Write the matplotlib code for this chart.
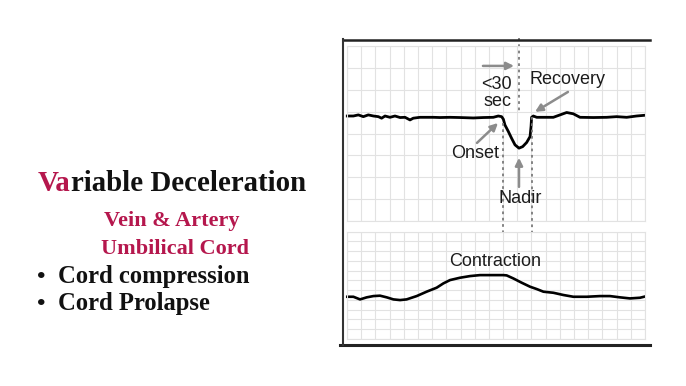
import matplotlib
matplotlib.use("Agg")
import matplotlib.pyplot as plt
from matplotlib.lines import Line2D
from matplotlib.transforms import blended_transform_factory

# ---------------- data ----------------
fhr_time = [2, 45, 80, 115, 150, 186, 221, 244, 268, 303, 338, 374, 409, 444, 467,
            514, 561, 608, 655, 726, 796, 890, 961, 1031, 1066, 1090, 1102, 1113,
            1137, 1160, 1184, 1212, 1238, 1266, 1290, 1297, 1301, 1313, 1337, 1407,
            1454, 1501, 1548, 1595, 1642, 1736, 1830, 1900, 1971, 2041, 2093]
fhr_time = [t / 10 for t in fhr_time]
fhr_bpm = [148.0, 148.0, 148.5, 147.7, 148.5, 148.0, 147.7, 147.0, 148.0, 147.4,
           148.0, 147.3, 147.4, 146.2, 147.0, 147.4, 147.4, 147.4, 147.3, 147.4,
           147.3, 147.1, 147.3, 147.4, 148.0, 147.7, 146.5, 143.9, 140.9, 137.8,
           134.8, 133.3, 134.0, 135.9, 138.6, 143.2, 147.4, 148.0, 147.4, 147.4,
           147.4, 148.5, 149.6, 149.0, 147.4, 147.3, 147.4, 147.7, 147.4, 148.0, 148.3]

uc_time = [0.2, 4.5, 9.2, 13.9, 18.6, 23.3, 28.0, 32.7, 37.4, 42.0, 49.1, 56.1,
           63.2, 67.9, 72.6, 79.6, 86.7, 93.7, 103.1, 110.2, 112.5, 117.2, 123.1,
           129.0, 133.7, 138.4, 145.4, 152.5, 159.5, 168.9, 178.3, 185.3, 192.4,
           199.4, 206.5, 209.3]
uc_mmhg = [43.3, 43.3, 40.6, 42.7, 44.0, 44.4, 42.7, 40.6, 39.9, 40.6, 44.0, 48.5,
           52.6, 57.0, 60.4, 62.8, 64.5, 65.5, 65.5, 65.5, 65.2, 62.1, 57.7, 53.6,
           51.2, 48.5, 47.4, 45.1, 43.3, 43.3, 44.0, 44.0, 42.7, 41.6, 42.3, 43.3]

onset_t, nadir_t, recovery_t = 110.0, 121.2, 130.4

title_red = "Va"
title_rest = "riable Deceleration"
subtitle_lines = ["Vein & Artery", "Umbilical Cord"]
bullets = ["Cord compression", "Cord Prolapse"]

# ---------------- figure ----------------
W, H = 686, 386
fig = plt.figure(figsize=(W / 100, H / 100), dpi=100)
fig.patch.set_facecolor("white")

def fx(px):
    return px / W

def fy(py):
    return 1 - py / H

GRID = "#e2e2e2"
RED = "#b5174d"
ARROW = "#8c8c8c"
TXT = "#1c1c1c"

def panel(left, top, right, bottom, ylim, ystep):
    ax = fig.add_axes([fx(left), fy(bottom), fx(right) - fx(left), fy(top) - fy(bottom)])
    ax.set_xlim(0, 210)
    ax.set_ylim(*ylim)
    ax.set_xticks(range(0, 211, 10))
    ax.set_yticks(range(int(ylim[0]), int(ylim[1]) + 1, ystep))
    ax.grid(True, color=GRID, lw=0.8)
    ax.tick_params(length=0, labelbottom=False, labelleft=False)
    for s in ax.spines.values():
        s.set_color(GRID)
        s.set_linewidth(0.8)
    ax.set_axisbelow(True)
    return ax

ax1 = panel(347, 46, 645, 221, (100, 180), 10)
ax2 = panel(347, 231.7, 645, 339, (0, 110), 10)

ax1.plot(fhr_time, fhr_bpm, color="black", lw=2.0, solid_joinstyle="round", clip_on=False)
ax2.plot(uc_time, uc_mmhg, color="black", lw=1.9, solid_joinstyle="round", clip_on=False)

# dotted guide lines
tr = blended_transform_factory(ax1.transData, fig.transFigure)
dot_kw = dict(color="#7a7a7a", lw=1.3, ls=(0, (1.5, 2)), transform=tr, clip_on=False)
ax1.plot([nadir_t, nadir_t], [fy(38), fy(112)], **dot_kw)
ax1.plot([onset_t, onset_t], [fy(123), fy(338)], **dot_kw)
ax1.plot([recovery_t, recovery_t], [fy(117), fy(338)], **dot_kw)

# frame lines
fig.add_artist(Line2D([fx(343), fx(650)], [fy(39.5), fy(39.5)], color="#222222", lw=1.8))
fig.add_artist(Line2D([fx(340), fx(650)], [fy(345), fy(345)], color="#222222", lw=2.2))
fig.add_artist(Line2D([fx(343), fx(343)], [fy(39), fy(345)], color="#333333", lw=1.5))

# annotations
lab = dict(fontsize=13, color=TXT, family="Liberation Sans", ha="center", va="center")
ax1.text(105.0, 162.6, "<30", **lab)
ax1.text(106.4, 154.4, "sec", **lab)
ax1.text(155.7, 164.5, "Recovery", **lab)
ax1.text(90.2, 130.7, "Onset", **lab)
ax1.text(121.9, 110.1, "Nadir", **lab)
ax2.text(104.3, 79.0, "Contraction", **lab)

ap = dict(arrowstyle="-|>", color=ARROW, lw=1.8, mutation_scale=11, shrinkA=0, shrinkB=0)
ax1.annotate("", xy=(117.7, 170.9), xytext=(95.8, 170.9), arrowprops=ap, annotation_clip=False)
ax1.annotate("", xy=(132.5, 149.9), xytext=(155.7, 159.0), arrowprops=ap, annotation_clip=False)
ax1.annotate("", xy=(106.4, 144.8), xytext=(91.6, 135.7), arrowprops=ap, annotation_clip=False)
ax1.annotate("", xy=(121.2, 128.9), xytext=(121.2, 115.6), arrowprops=ap, annotation_clip=False)

# left-hand text
serif = dict(family="Liberation Serif", weight="bold")
t1 = fig.text(fx(38), fy(191), title_red, color=RED, fontsize=20.8, va="baseline", ha="left", **serif)
plt.annotate(title_rest, xy=(1, 0), xycoords=t1, va="bottom", ha="left",
             color="#111111", fontsize=20.8, annotation_clip=False, **serif)

fig.text(fx(172), fy(226), subtitle_lines[0], color=RED, fontsize=16, ha="center", va="baseline", **serif)
fig.text(fx(175), fy(254), subtitle_lines[1], color=RED, fontsize=16, ha="center", va="baseline", **serif)

for i, b in enumerate(bullets):
    base = [283, 310][i]
    fig.text(fx(37), fy(base), "\u2022", color="#111111", fontsize=17.5, ha="left", va="baseline", **serif)
    fig.text(fx(58), fy(base), b, color="#111111", fontsize=17.7, ha="left", va="baseline", **serif)

fig.savefig("out.png", dpi=100, facecolor="white")
